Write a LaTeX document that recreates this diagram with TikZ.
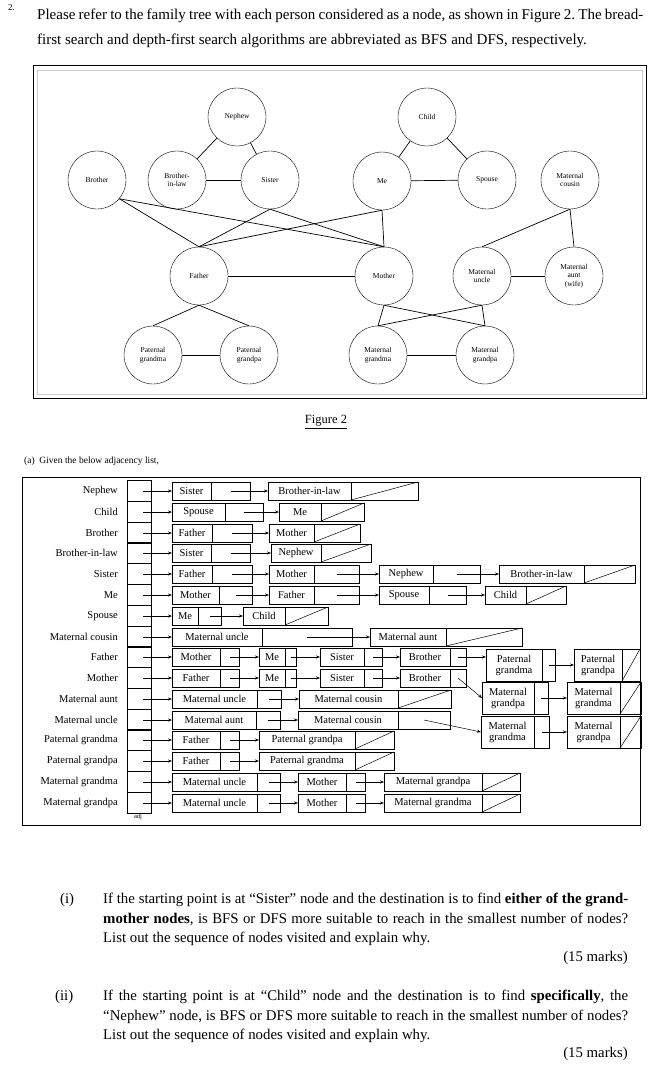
\documentclass[tikz,border=0pt]{standalone}
\usepackage{fontspec}
\setmainfont{Liberation Serif}
\usetikzlibrary{arrows.meta}
\frenchspacing
\begin{document}
\begin{tikzpicture}[x=1pt,y=-1pt,
  per/.style={draw,circle,minimum size=58pt,inner sep=0pt,align=center,font=\fontsize{7.5}{8.5}\selectfont},
  lbl/.style={font=\fontsize{10.5}{11}\selectfont,inner sep=0pt,align=center},
  rl/.style={font=\fontsize{10.5}{11}\selectfont,anchor=east,inner sep=0pt},
  arr/.style={-{Stealth[length=4pt,width=3pt]},line width=0.5pt},
  ed/.style={line width=0.7pt}]
\useasboundingbox (0,0) rectangle (659,1070);
\fill[white] (0,0) rectangle (659,1070);
% header
\node[anchor=west,inner sep=0pt,font=\fontsize{9}{10}\selectfont] (num) at (8,8) {2.};
\node[anchor=north west,inner sep=0pt,text width=606pt,align=justify,font=\fontsize{15}{25}\selectfont] (intro) at (37,9)
{Please refer to the family tree with each person considered as a node, as shown in Figure 2. The bread-first search and depth-first search algorithms are abbreviated as BFS and DFS, respectively.};
% figure frame
\draw[line width=1pt] (33,66) rectangle (646,398);
\draw[gray!40,line width=0.4pt] (37,70) rectangle (642,394);
\node[per] (nep) at (237,117) {Nephew};
\node[per] (chi) at (427,117) {Child};
\node[per] (bro) at (97,180) {Brother};
\node[per] (bil) at (177,180) {Brother-\\in-law};
\node[per] (sis) at (270,180) {Sister};
\node[per] (me) at (382,181) {Me};
\node[per] (spo) at (487,180) {Spouse};
\node[per] (mco) at (570,180) {Maternal\\cousin};
\node[per] (fat) at (199,276) {Father};
\node[per] (mot) at (384,276) {Mother};
\node[per] (mun) at (482,276) {Maternal\\uncle};
\node[per] (mau) at (574,276) {Maternal\\aunt\\(wife)};
\node[per] (pgm) at (153,355) {Paternal\\grandma};
\node[per] (pgp) at (249,355) {Paternal\\grandpa};
\node[per] (mgm) at (378,355) {Maternal\\grandma};
\node[per] (mgp) at (485,355) {Maternal\\grandpa};
\draw[ed] (nep)--(bil); \draw[ed] (nep)--(sis); \draw[ed] (bil)--(sis);
\draw[ed] (chi)--(me); \draw[ed] (chi)--(spo); \draw[ed] (me)--(spo);
\draw[ed] (bro.-40)--(fat.north); \draw[ed] (bro.-40)--(mot.north);
\draw[ed] (sis.south)--(fat.north); \draw[ed] (sis.south)--(mot.north);
\draw[ed] (me.south)--(fat.north); \draw[ed] (me.south)--(mot.north);
\draw[ed] (fat)--(mot);
\draw[ed] (fat.south)--(pgm.north); \draw[ed] (fat.south)--(pgp.north); \draw[ed] (pgm)--(pgp);
\draw[ed] (mot.south)--(mgm.north); \draw[ed] (mot.south)--(mgp.north);
\draw[ed] (mun.south)--(mgm.north); \draw[ed] (mun.south)--(mgp.north); \draw[ed] (mgm)--(mgp);
\draw[ed] (mco.south)--(mun.north); \draw[ed] (mco.south)--(mau.north); \draw[ed] (mun)--(mau);
\node[font=\fontsize{12.5}{13}\selectfont,inner sep=1pt] (fig) at (326,422) {\underline{Figure 2}};
\node[anchor=west,inner sep=0pt,font=\fontsize{9.5}{10}\selectfont] (qa) at (24,461) {(a)\ \ Given the below adjacency list,};
% adjacency frame
\draw[line width=1pt] (22,477) rectangle (640,825);
\newcommand\cellh[7]{%
  \draw[line width=0.5pt] (#2,#5-#7) rectangle (#4,#5+#7);
  \draw[line width=0.5pt] (#3,#5-#7)--(#3,#5+#7);
  \node[lbl] (#1) at ({(#2+#3)/2},#5) {#6};
  \coordinate (#1p) at ({(#3+#4)/2},#5);
  \coordinate (#1l) at (#2,#5);}
\newcommand\cell[6]{\cellh{#1}{#2}{#3}{#4}{#5}{#6}{9}}
\newcommand\nul[4]{\draw[line width=0.5pt] (#1,#3+#4)--(#2,#3-#4);}
\newcommand\rowl[3]{%
  \draw[line width=0.5pt] (127,#2-10.4) rectangle (151,#2+10.4);
  \node[rl] (r#1) at (118,#2) {#3};
  \coordinate (a#1) at (143,#2);}
\rowl{1}{491}{Nephew}
\rowl{2}{512}{Child}
\rowl{3}{533}{Brother}
\rowl{4}{553}{Brother-in-law}
\rowl{5}{574}{Sister}
\rowl{6}{595}{Me}
\rowl{7}{616}{Spouse}
\rowl{8}{637}{Maternal cousin}
\rowl{9}{657}{Father}
\rowl{10}{678}{Mother}
\rowl{11}{699}{Maternal aunt}
\rowl{12}{720}{Maternal uncle}
\rowl{13}{740}{Paternal grandma}
\rowl{14}{761}{Paternal grandpa}
\rowl{15}{782}{Maternal grandma}
\rowl{16}{803}{Maternal grandpa}
\node[font=\fontsize{6.5}{7}\selectfont,inner sep=0pt] (adj) at (138,817) {adj};
% row 1
\cell{a1b}{172}{211}{250}{491}{Sister}
\cell{a1c}{268}{351}{418}{491}{Brother-in-law}\nul{351}{418}{491}{9}
\draw[arr] (a1)--(a1bl); \draw[arr] (a1bp)--(a1cl);
% row 2
\cell{a2b}{172}{225}{263}{512}{Spouse}
\cell{a2c}{279}{321}{364}{512}{Me}\nul{321}{364}{512}{9}
\draw[arr] (a2)--(a2bl); \draw[arr] (a2bp)--(a2cl);
% row 3
\cell{a3b}{172}{212}{252}{533}{Father}
\cell{a3c}{269}{314}{360}{533}{Mother}\nul{314}{360}{533}{9}
\draw[arr] (a3)--(a3bl); \draw[arr] (a3bp)--(a3cl);
% row 4
\cell{a4b}{172}{211}{250}{553}{Sister}
\cell{a4c}{271}{321}{371}{553}{Nephew}\nul{321}{371}{553}{9}
\draw[arr] (a4)--(a4bl); \draw[arr] (a4bp)--(a4cl);
% row 5
\cell{a5b}{172}{212}{252}{574}{Father}
\cell{a5c}{269}{314}{359}{574}{Mother}
\cell{a5d}{379}{433}{480}{574}{Nephew}
\cell{a5e}{499}{584}{635}{574}{Brother-in-law}\nul{584}{635}{574}{9}
\draw[arr] (a5)--(a5bl); \draw[arr] (a5bp)--(a5cl); \draw[arr] (a5cp)--(a5dl); \draw[arr] (a5dp)--(a5el);
% row 6
\cell{a6b}{172}{219}{252}{595}{Mother}
\cell{a6c}{269}{314}{359}{595}{Father}
\cell{a6d}{379}{429}{466}{595}{Spouse}
\cell{a6e}{485}{526}{566}{595}{Child}\nul{526}{566}{595}{9}
\draw[arr] (a6)--(a6bl); \draw[arr] (a6bp)--(a6cl); \draw[arr] (a6cp)--(a6dl); \draw[arr] (a6dp)--(a6el);
% row 7
\cell{a7b}{172}{198}{221}{616}{Me}
\cell{a7c}{243}{285}{328}{616}{Child}\nul{285}{328}{616}{9}
\draw[arr] (a7)--(a7bl); \draw[arr] (a7bp)--(a7cl);
% row 8
\cell{a8b}{172}{262}{352}{637}{Maternal uncle}
\cell{a8c}{370}{446}{522}{637}{Maternal aunt}\nul{446}{522}{637}{9}
\draw[arr] (a8)--(a8bl); \draw[arr] (a8bp)--(a8cl);
% row 9 Father
\cell{a9b}{172}{220}{239}{657}{Mother}
\cell{a9c}{259}{285}{296}{657}{Me}
\cell{a9d}{320}{364}{382}{657}{Sister}
\cell{a9e}{400}{450}{466}{657}{Brother}
\cellh{a9f}{486}{542}{555}{665}{Paternal\\grandma}{16}
\cellh{a9g}{574}{622}{640}{665}{Paternal\\grandpa}{16}\nul{622}{640}{665}{16}
\draw[arr] (a9)--(a9bl); \draw[arr] (a9bp)--(a9cl); \draw[arr] (a9cp)--(a9dl); \draw[arr] (a9dp)--(a9el);
\draw[arr] (a9ep)--(486,657); \draw[arr] (a9fp)--(a9gl);
% row 10 Mother
\cell{a10b}{172}{220}{239}{678}{Father}
\cell{a10c}{259}{285}{296}{678}{Me}
\cell{a10d}{320}{364}{382}{678}{Sister}
\cell{a10e}{400}{450}{466}{678}{Brother}
\cellh{a10f}{482}{534}{548}{698}{Maternal\\grandpa}{16}
\cellh{a10g}{567}{620}{641}{698}{Maternal\\grandma}{16}\nul{620}{641}{698}{16}
\draw[arr] (a10)--(a10bl); \draw[arr] (a10bp)--(a10cl); \draw[arr] (a10cp)--(a10dl); \draw[arr] (a10dp)--(a10el);
\draw[arr] (a10ep)--(482,698); \draw[arr] (a10fp)--(a10gl);
% row 11 Maternal aunt
\cell{a11b}{172}{257}{281}{699}{Maternal uncle}
\cell{a11c}{299}{398}{451}{699}{Maternal cousin}\nul{398}{451}{699}{9}
\draw[arr] (a11)--(a11bl); \draw[arr] (a11bp)--(a11cl);
% row 12 Maternal uncle
\cell{a12b}{172}{256}{280}{720}{Maternal aunt}
\cell{a12c}{298}{398}{450}{720}{Maternal cousin}
\cellh{a12d}{481}{534}{549}{732}{Maternal\\grandma}{16}
\cellh{a12e}{567}{620}{641}{732}{Maternal\\grandpa}{16}\nul{620}{641}{732}{16}
\draw[arr] (a12)--(a12bl); \draw[arr] (a12bp)--(a12cl); \draw[arr] (a12cp)--(481,732); \draw[arr] (a12dp)--(a12el);
% row 13
\cell{a13b}{172}{220}{239}{740}{Father}
\cell{a13c}{259}{355}{394}{740}{Paternal grandpa}\nul{355}{394}{740}{9}
\draw[arr] (a13)--(a13bl); \draw[arr] (a13bp)--(a13cl);
% row 14
\cell{a14b}{172}{220}{239}{761}{Father}
\cell{a14c}{259}{355}{394}{761}{Paternal grandma}\nul{355}{394}{761}{9}
\draw[arr] (a14)--(a14bl); \draw[arr] (a14bp)--(a14cl);
% row 15
\cell{a15b}{172}{257}{280}{782}{Maternal uncle}
\cell{a15c}{298}{346}{365}{782}{Mother}
\cell{a15d}{384}{482}{520}{782}{Maternal grandpa}\nul{482}{520}{782}{9}
\draw[arr] (a15)--(a15bl); \draw[arr] (a15bp)--(a15cl); \draw[arr] (a15cp)--(a15dl);
% row 16
\cell{a16b}{172}{257}{280}{803}{Maternal uncle}
\cell{a16c}{298}{346}{365}{803}{Mother}
\cell{a16d}{384}{482}{520}{803}{Maternal grandma}\nul{482}{520}{803}{9}
\draw[arr] (a16)--(a16bl); \draw[arr] (a16bp)--(a16cl); \draw[arr] (a16cp)--(a16dl);
% questions
\tikzset{qt/.style={anchor=north west,inner sep=0pt,text width=525pt,align=justify,font=\fontsize{14.8}{19.5}\selectfont}}
\node[anchor=north west,inner sep=0pt,font=\fontsize{14.8}{19.5}\selectfont] (qi) at (60,893) {(i)};
\node[qt] (ti) at (103,893) {If the starting point is at “Sister” node and the destination is to find \textbf{either of the grandmother nodes}, is BFS or DFS more suitable to reach in the smallest number of nodes? List out the sequence of nodes visited and explain why.};
\node[anchor=east,inner sep=0pt,font=\fontsize{14.8}{19.5}\selectfont] (mi) at (628,958) {(15 marks)};
\node[anchor=north west,inner sep=0pt,font=\fontsize{14.8}{19.5}\selectfont] (qii) at (55,990) {(ii)};
\node[qt] (tii) at (103,990) {If the starting point is at “Child” node and the destination is to find \textbf{specifically}, the “Nephew” node, is BFS or DFS more suitable to reach in the smallest number of nodes? List out the sequence of nodes visited and explain why.};
\node[anchor=east,inner sep=0pt,font=\fontsize{14.8}{19.5}\selectfont] (mii) at (628,1054) {(15 marks)};
\end{tikzpicture}
\end{document}
